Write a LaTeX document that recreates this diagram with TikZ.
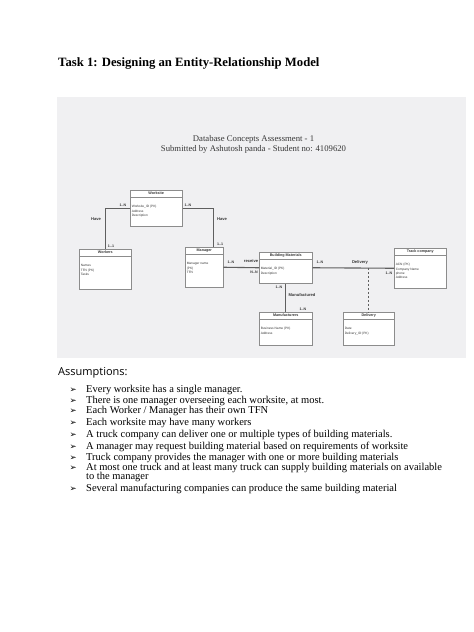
\documentclass[tikz,border=0pt]{standalone}
\usepackage{fontspec}
\setmainfont{Liberation Serif}
\newfontfamily\dsans{Liberation Sans}
\newfontfamily\osans{Open Sans}
\newfontfamily\djv{DejaVu Sans}
\definecolor{bggray}{RGB}{240,240,242}
\definecolor{boxgray}{RGB}{140,140,140}
\definecolor{linegray}{RGB}{95,95,95}
\definecolor{txtdark}{RGB}{55,55,55}
\tikzset{
 ent/.style={draw=boxgray, fill=white, line width=0.5pt, inner sep=0pt},
 entline/.style={draw=boxgray, line width=0.5pt},
 etitle/.style={font=\dsans\bfseries\fontsize{3.7}{4.4}\selectfont, text=txtdark, inner sep=0pt},
 eattr/.style={font=\dsans\fontsize{3.2}{4.3}\selectfont, text=txtdark, align=left, inner sep=0pt},
 rel/.style={draw=linegray, line width=1.1pt},
 reldash/.style={draw=linegray, line width=0.9pt, dash pattern=on 2pt off 2pt},
 card/.style={font=\dsans\bfseries\fontsize{3.6}{4}\selectfont, text=txtdark, inner sep=0pt},
 rname/.style={font=\dsans\bfseries\fontsize{4.1}{4.5}\selectfont, text=txtdark, inner sep=0pt},
 dtitle/.style={font=\fontsize{8.7}{10}\selectfont, text=txtdark, inner sep=0pt, anchor=base},
 bultext/.style={font=\fontsize{10.5}{12}\selectfont, inner sep=0pt, anchor=base west},
 bulmark/.style={font=\djv\fontsize{8.5}{9}\selectfont, inner sep=0pt, anchor=base west},
}
\newcommand\entity[7]{%
 \node[ent, anchor=north west, minimum width={(#4-#2)*1pt}, minimum height={(#5-#3)*1pt}] (#1) at (#2,#3) {};
 \draw[entline] ([yshift=-7pt]#1.north west) -- ([yshift=-7pt]#1.north east);
 \node[etitle] (#1t) at ([yshift=-3.6pt]#1.north) {#6};
 \node[eattr, anchor=north west] (#1a) at ([xshift=1.6pt,yshift=-15.3pt]#1.north west) {#7};
}
\begin{document}
\begin{tikzpicture}[x=1pt,y=-1pt]
\useasboundingbox (0,0) rectangle (474,632);
\fill[white] (0,0) rectangle (474,632);
% heading
\node[font=\bfseries\fontsize{12.7}{15}\selectfont, inner sep=0pt, anchor=base west] (head) at (58,66) {Task 1: Designing an Entity-Relationship Model};
% diagram background
\fill[bggray] (57,97) rectangle (466,358);
\node[dtitle] (dt1) at (253.5,141) {Database Concepts Assessment - 1};
\node[dtitle] (dt2) at (253.5,151.5) {Submitted by Ashutosh panda - Student no: 4109620};
% entities
\entity{ws}{130}{190}{182}{226}{Worksite}{Worksite\_ID (PK)\\Address\\Description}
\entity{wk}{79}{249}{131}{289}{Workers}{Names\\TFN (PK)\\Tasks}
\entity{mg}{185}{247}{223}{287}{Manager}{Manager name\\(PK)\\TFN}
\entity{bm}{259}{252}{312}{283}{Building Materials}{Material\_ID (PK)\\Description}
\entity{tc}{394}{248}{446}{288}{Track company}{ACN (PK)\\Company Name\\phone\\Address}
\entity{mf}{259}{312}{312}{345}{Manufacturers}{Business Name (PK)\\Address}
\entity{dl}{343}{312}{394}{345}{Delivery}{Date\\Delivery\_ID (PK)}
% connectors
\draw[rel] (ws.west) -| (wk.north);
\draw[rel] (ws.east) -| ([xshift=9pt]mg.north);
\draw[rel] (mg.east) -- (bm.west);
\draw[rel] (bm.east) -- (tc.west);
\draw[rel] (bm.south) -- (mf.north);
\coordinate (dj) at (bm.east -| dl.north);
\draw[reldash] (dj) -- (dl.north);
% labels
\node[card] (l1) at (123,205) {1..N};
\node[rname] (l2) at (96,219) {Have};
\node[card] (l3) at (111,246) {1..1};
\node[card] (l4) at (188,205) {1..N};
\node[rname] (l5) at (222,219) {Have};
\node[card] (l6) at (220,244) {1..1};
\node[card] (l7) at (231,262) {1..N};
\node[rname] (l8) at (251,261) {receive};
\node[card] (l9) at (254,272) {N..N};
\node[card] (l10) at (320,262) {1..N};
\node[rname] (l11) at (360,262) {Delivery};
\node[card] (l12) at (389,273) {1..N};
\node[card] (l13) at (279,287) {1..N};
\node[rname] (l14) at (302,295) {Manufactured};
\node[card] (l15) at (303,309) {1..N};
% assumptions
\node[font=\osans\fontsize{11}{13}\selectfont, inner sep=0pt, anchor=base west] (asm) at (58,375.5) {Assumptions:};
\foreach \yy/\tt [count=\i] in {
 392/{Every worksite has a single manager.},
 403.5/{There is one manager overseeing each worksite, at most.},
 413.5/{Each Worker / Manager has their own TFN},
 425/{Each worksite may have many workers},
 437/{A truck company can deliver one or multiple types of building materials.},
 449/{A manager may request building material based on requirements of worksite},
 460/{Truck company provides the manager with one or more building materials},
 470/{At most one truck and at least many truck can supply building materials on available},
 491/{Several manufacturing companies can produce the same building material}} {
 \node[bulmark] (bm\i) at (69.5,\yy) {➢};
 \node[bultext] (bt\i) at (86,\yy) {\tt};
}
\node[bultext] (btc) at (86,479.5) {to the manager};
\end{tikzpicture}
\end{document}
